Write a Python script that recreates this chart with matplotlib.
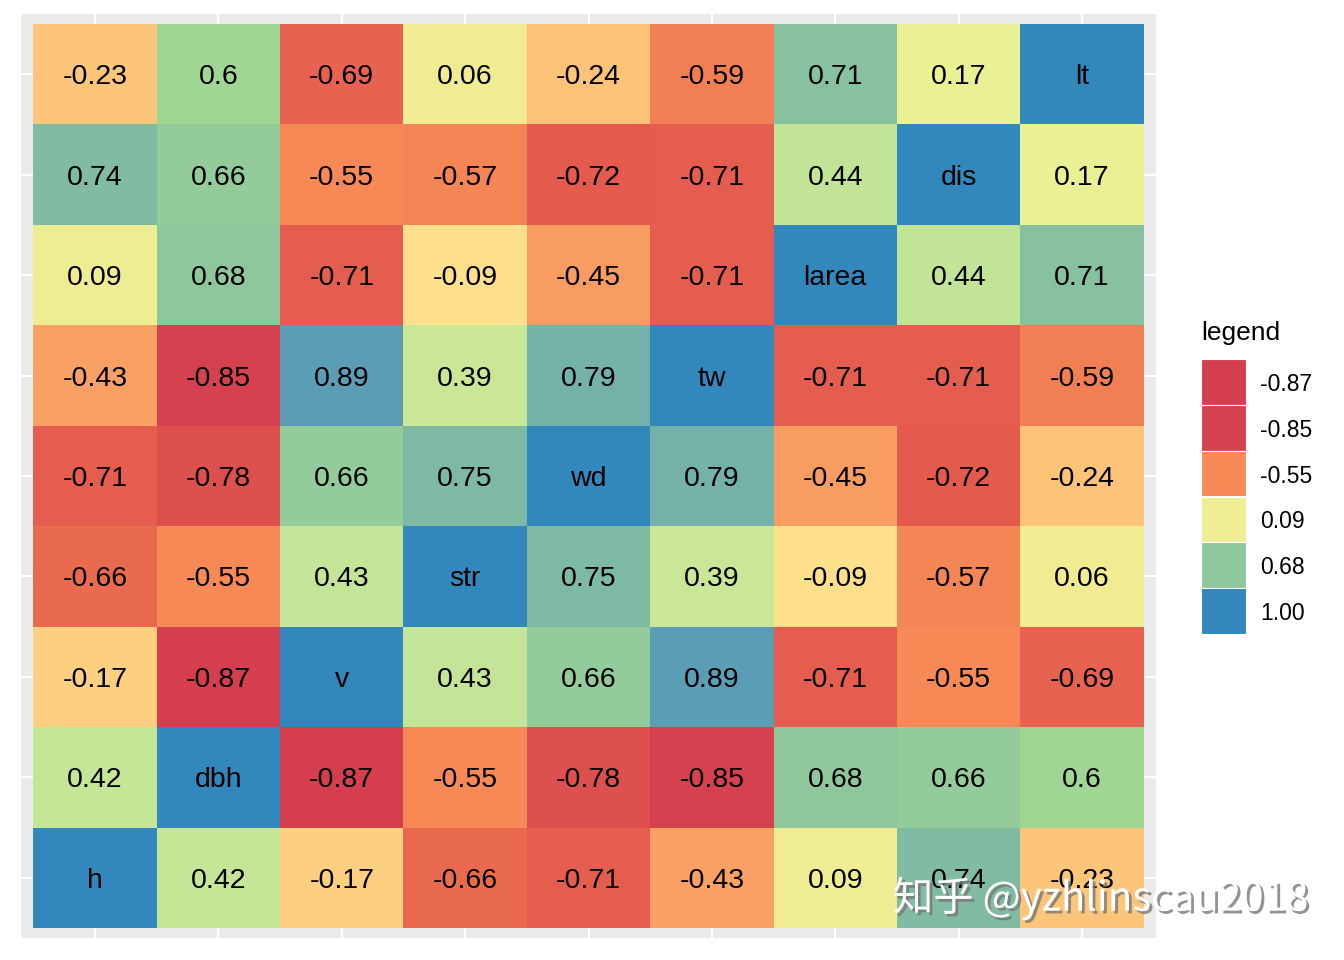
import matplotlib
matplotlib.use("Agg")
import matplotlib.pyplot as plt
import matplotlib.patheffects as pe
from matplotlib.colors import LinearSegmentedColormap, Normalize
import numpy as np

plt.rcParams['font.family'] = ['Liberation Sans', 'DejaVu Sans']

variables = ["h", "dbh", "v", "str", "wd", "tw", "larea", "dis", "lt"]

row_h     = [1.00, 0.42, -0.17, -0.66, -0.71, -0.43, 0.09, 0.74, -0.23]
row_dbh   = [0.42, 1.00, -0.87, -0.55, -0.78, -0.85, 0.68, 0.66, 0.60]
row_v     = [-0.17, -0.87, 1.00, 0.43, 0.66, 0.89, -0.71, -0.55, -0.69]
row_str   = [-0.66, -0.55, 0.43, 1.00, 0.75, 0.39, -0.09, -0.57, 0.06]
row_wd    = [-0.71, -0.78, 0.66, 0.75, 1.00, 0.79, -0.45, -0.72, -0.24]
row_tw    = [-0.43, -0.85, 0.89, 0.39, 0.79, 1.00, -0.71, -0.71, -0.59]
row_larea = [0.09, 0.68, -0.71, -0.09, -0.45, -0.71, 1.00, 0.44, 0.71]
row_dis   = [0.74, 0.66, -0.55, -0.57, -0.72, -0.71, 0.44, 1.00, 0.17]
row_lt    = [-0.23, 0.60, -0.69, 0.06, -0.24, -0.59, 0.71, 0.17, 1.00]

legend_breaks = [-0.87, -0.85, -0.55, 0.09, 0.68, 1.00]
legend_labels = ["-0.87", "-0.85", "-0.55", "0.09", "0.68", "1.00"]

M = np.array([row_h, row_dbh, row_v, row_str, row_wd, row_tw,
              row_larea, row_dis, row_lt])

vmin, vmax = -0.87, 1.00
norm = Normalize(vmin=vmin, vmax=vmax)
anchors = [(-0.87, '#D53E4F'), (-0.71, '#E55E4E'), (-0.55, '#F68A56'),
           (-0.23, '#FDC57A'), (-0.09, '#FEE08B'), (0.06, '#F1EB92'),
           (0.17, '#EAF195'), (0.42, '#C6E697'), (0.60, '#A1D794'),
           (0.71, '#88C29E'), (0.89, '#5B9DB5'), (1.00, '#3288BD')]
cmap = LinearSegmentedColormap.from_list(
    "spec", [((v - vmin) / (vmax - vmin), c) for v, c in anchors])

W, H = 1344, 960
fig = plt.figure(figsize=(W / 100, H / 100), dpi=100)
ax = fig.add_axes([21 / W, 1 - 938 / H, (1156 - 21) / W, (938 - 14) / H])
ax.set_facecolor('#EBEBEB')
n = len(variables)
edges = np.arange(n + 1) - 0.5
ax.pcolormesh(edges, edges, M, cmap=cmap, norm=norm, zorder=2)
for yi in range(n):
    for xi in range(n):
        txt = variables[yi] if xi == yi else f"{M[yi, xi]:g}"
        ax.text(xi, yi, txt, ha='center', va='center_baseline',
                fontsize=20.5, color='black', zorder=3)
pad = 0.1
ax.set_xlim(-0.5 - pad, n - 0.5 + pad)
ax.set_ylim(-0.5 - pad, n - 0.5 + pad)
ax.set_xticks(range(n))
ax.set_yticks(range(n))
ax.grid(True, color='white', linewidth=1.5, zorder=1)
ax.set_axisbelow(True)
ax.tick_params(length=0, labelbottom=False, labelleft=False)
for s in ax.spines.values():
    s.set_visible(False)

# legend
lax = fig.add_axes([1201 / W, 1 - 634 / H, 45 / W, 275 / H])
k = len(legend_breaks)
for i, b in enumerate(legend_breaks):
    lax.bar(0, 1, bottom=i, width=1, color=cmap(norm(b)),
            edgecolor='white', linewidth=0.8)
lax.set_xlim(-0.5, 0.5)
lax.set_ylim(k, 0)
lax.set_yticks(np.arange(k) + 0.5)
lax.set_yticklabels(legend_labels, fontsize=16.5)
lax.yaxis.tick_right()
lax.tick_params(axis='y', length=0, pad=10)
lax.set_xticks([])
for s in lax.spines.values():
    s.set_visible(False)
fig.text(1201 / W, 1 - 333 / H, "legend", fontsize=19, ha='left',
         va='center')

# watermark
fig.text(893 / W, 1 - 898 / H, "知乎 @yzhlinscau2018", fontsize=29,
         ha='left', va='center', color='white',
         family=['Noto Sans CJK SC', 'DejaVu Sans'],
         path_effects=[pe.withSimplePatchShadow(offset=(2, -2),
                                                shadow_rgbFace='#777777',
                                                alpha=0.8)])

fig.savefig("out.png", dpi=100)
